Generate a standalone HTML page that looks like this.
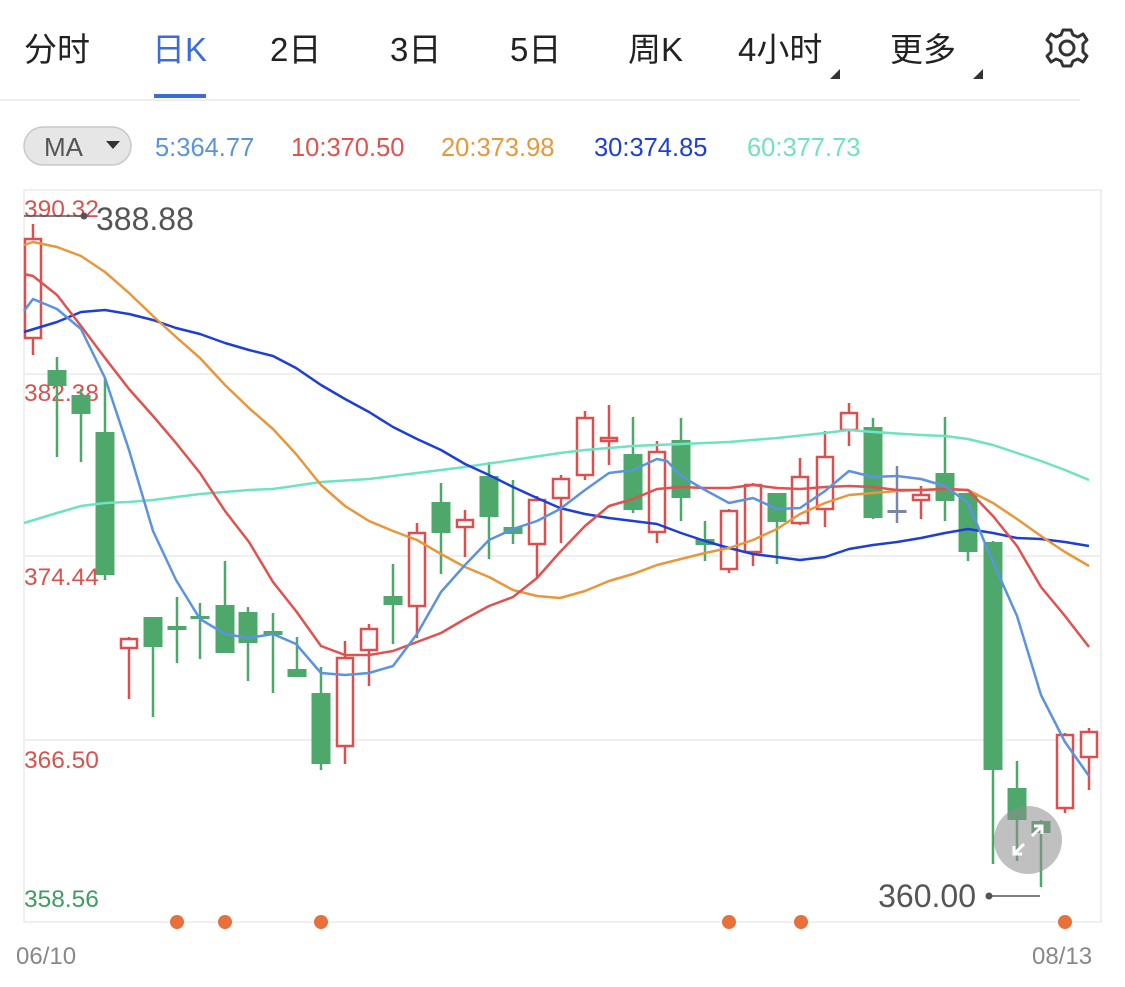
<!DOCTYPE html>
<html><head><meta charset="utf-8"><style>
body{margin:0;background:#fff;width:1125px;height:987px;overflow:hidden;font-family:"Liberation Sans","Noto Sans CJK SC",sans-serif}
svg{position:absolute;left:0;top:0}
</style></head><body>
<svg width="1125" height="987" viewBox="0 0 1125 987" font-family="Liberation Sans, Noto Sans CJK SC, sans-serif">
<g font-size="33" fill="#222">
<text x="24" y="61">分时</text>
<text x="152" y="61" fill="#3d6bd8">日K</text>
<text x="270" y="61">2日</text>
<text x="390" y="61">3日</text>
<text x="510" y="61">5日</text>
<text x="628" y="61">周K</text>
<text x="738" y="61">4小时</text>
<text x="890" y="61">更多</text>
</g>
<rect x="154" y="94" width="52" height="4" fill="#3d6bd8"/>
<polygon points="840,69 840,79 830,79" fill="#333"/>
<polygon points="983,69 983,79 973,79" fill="#333"/>
<g transform="translate(1067,48)" fill="none" stroke="#333" stroke-width="3">
<circle r="7"/>
<path d="M-4,-18 L4,-18 L6,-13 L11,-11 L16,-14 L20,-8 L16,-4 L16,4 L20,8 L16,14 L11,11 L6,13 L4,18 L-4,18 L-6,13 L-11,11 L-16,14 L-20,8 L-16,4 L-16,-4 L-20,-8 L-16,-14 L-11,-11 L-6,-13 Z" stroke-linejoin="round"/>
</g>
<line x1="0" y1="100" x2="1080" y2="100" stroke="#eee" stroke-width="2"/>
<rect x="24" y="127" width="107" height="38" rx="19" fill="#e6e6e6" stroke="#c8c8c8" stroke-width="1.5"/>
<text x="44" y="156" font-size="26" fill="#555">MA</text>
<polygon points="106,141 120,141 113,149" fill="#333"/>
<g font-size="25.5">
<text x="155" y="156" fill="#5b93e0">5:364.77</text>
<text x="291" y="156" fill="#e0524e">10:370.50</text>
<text x="441" y="156" fill="#e8973a">20:373.98</text>
<text x="594" y="156" fill="#1d3fd6">30:374.85</text>
<text x="747" y="156" fill="#6ee3c0">60:377.73</text>
</g>
<g stroke="#efefef" stroke-width="2" fill="none">
<rect x="24" y="190" width="1077" height="732"/>
<line x1="24" y1="374" x2="1101" y2="374"/>
<line x1="24" y1="556" x2="1101" y2="556"/>
<line x1="24" y1="740" x2="1101" y2="740"/>
</g>
<g font-size="24.5" fill="#d9524e">
<text x="24" y="217">390.32</text>
<text x="24" y="401">382.38</text>
<text x="24" y="585">374.44</text>
<text x="24" y="768">366.50</text>
<text x="24" y="907" fill="#3f9d63">358.56</text>
</g>
<g font-size="24" fill="#888">
<text x="16" y="964">06/10</text>
<text x="1032" y="964">08/13</text>
</g>
<g id="candles"></g>
<g fill="none" stroke-width="2.5" stroke-linejoin="round">
<polyline stroke="#6ee3c0" points="24,523 57,513 81,506 105,503 129,502 153,500 200,494 249,490 273,489 321,482 369,479 417,473 465,467 513,460 560,453 585,450 633,446 681,444 729,442 777,438 825,433 849,430 873,432 921,435 945,436 968,439 993,445 1017,453 1041,461 1065,470 1089,480"/>
<polyline stroke="#1d3fd6" points="24,332 57,322 81,312 105,310 129,314 153,320 176,328 200,334 225,343 249,350 273,356 296,368 321,385 345,399 369,412 393,427 417,439 441,450 465,464 489,475 513,487 537,498 560,508 585,514 609,518 633,521 657,524 681,533 705,541 729,548 753,554 777,557 800,560 825,557 849,549 873,545 897,542 921,538 945,533 968,529 993,533 1017,538 1041,539 1065,542 1089,546"/>
<polyline stroke="#e8973a" points="24,245 33,242 57,247 81,256 105,272 129,293 153,316 176,337 200,358 225,385 249,408 273,429 296,454 321,485 345,506 369,521 393,531 417,540 441,554 465,567 489,577 513,590 537,596 560,598 585,591 609,581 633,574 657,565 681,559 705,553 729,548 753,540 777,529 800,514 825,503 849,495 873,493 897,491 921,490 945,489 968,490 993,503 1017,519 1041,536 1065,552 1089,566"/>
<polyline stroke="#e0524e" points="24,274 33,276 57,295 81,326 105,358 129,389 153,416 176,443 200,473 225,511 249,542 273,582 296,611 321,646 345,655 369,655 393,651 417,642 441,633 465,619 489,606 513,597 537,578 560,552 585,526 609,506 633,499 657,489 681,487 705,488 729,488 753,485 777,488 800,489 825,487 849,486 873,487 897,490 921,490 945,489 968,490 993,516 1017,546 1041,587 1065,616 1089,647"/>
<polyline stroke="#5b93e0" points="24,311 33,299 57,309 81,329 105,378 129,450 153,531 176,580 200,619 225,634 249,638 273,634 296,644 321,673 345,675 369,673 393,666 417,634 441,592 465,565 489,540 513,529 537,521 560,509 585,490 609,473 633,470 657,459 667,461 681,476 705,490 729,503 753,498 777,509 800,508 825,491 849,471 873,477 897,476 921,479 945,486 968,503 993,562 1017,616 1041,695 1065,742 1089,776"/>
</g>
<g fill="#e8703a">
<circle cx="177" cy="922" r="7"/><circle cx="225" cy="922" r="7"/><circle cx="321" cy="922" r="7"/>
<circle cx="729" cy="922" r="7"/><circle cx="801" cy="922" r="7"/><circle cx="1065" cy="922" r="7"/>
</g>
<line x1="24" y1="216" x2="84" y2="216" stroke="#555" stroke-width="1.5"/>
<circle cx="84" cy="216" r="3.5" fill="#555"/>
<text x="96" y="230" font-size="32" fill="#555">388.88</text>
<text x="976" y="907" font-size="32" fill="#555" text-anchor="end">360.00</text>
<circle cx="989" cy="896" r="3.5" fill="#555"/>
<line x1="989" y1="896" x2="1040" y2="896" stroke="#555" stroke-width="1.5"/>
<circle cx="1028" cy="840" r="34" fill="rgba(140,140,140,0.55)"/>
<g stroke="#fff" stroke-width="3" fill="none">
<line x1="1014" y1="854" x2="1024" y2="844"/><polyline points="1014,846 1014,854 1022,854"/>
<line x1="1032" y1="836" x2="1042" y2="826"/><polyline points="1034,826 1042,826 1042,834"/>
</g>
</svg>
<script>
var d=[
[33,'r',224,239,338,355],[57,'g',357,370,386,457],[81,'g',389,395,414,462],[105,'g',378,432,575,580],
[129,'r',637,639,648,699],[153,'g',617,617,647,717],[177,'g',597,626,630,663],[200,'g',603,616,619,659],
[225,'g',561,605,653,653],[248,'g',607,612,643,681],[273,'g',613,631,635,693],[297,'g',637,669,677,677],
[321,'g',667,693,764,770],[345,'r',641,658,746,764],[369,'r',624,629,650,686],[393,'g',564,596,605,644],
[417,'r',523,533,606,638],[441,'g',483,502,533,574],[465,'r',510,520,527,557],[489,'g',462,476,517,559],
[513,'g',480,527,534,544],[537,'r',496,500,544,578],[561,'r',475,479,498,543],[585,'r',411,418,475,480],
[609,'r',405,438,441,465],[633,'g',417,454,510,513],[657,'r',441,452,532,543],[681,'g',418,440,498,521],
[705,'g',521,539,545,561],[729,'r',509,511,569,573],[753,'r',483,485,552,566],[777,'g',493,493,522,564],
[800,'r',458,477,523,525],[825,'r',431,457,509,527],[849,'r',403,413,430,446],[873,'g',418,427,518,519],
[897,'x',466,510,512,523],[921,'r',486,495,500,519],[945,'g',417,473,501,521],[968,'g',493,493,552,561],
[993,'g',541,542,770,864],[1017,'g',761,788,820,861],[1041,'g',820,821,833,887],[1065,'r',733,735,808,813],
[1089,'r',728,732,757,790]];
var s='';
d.forEach(function(c){var x=c[0],col=c[1]=='r'?'#dc4f4f':c[1]=='g'?'#4ea86b':'#7a86a8';
var h=Math.max(c[4]-c[3],3);
s+='<line x1="'+x+'" y1="'+c[2]+'" x2="'+x+'" y2="'+c[5]+'" stroke="'+col+'" stroke-width="2.5"/>';
if(c[1]=='r')s+='<rect x="'+(x-8)+'" y="'+c[3]+'" width="16" height="'+h+'" fill="#fff" stroke="'+col+'" stroke-width="2.5"/>';
else s+='<rect x="'+(x-9.5)+'" y="'+c[3]+'" width="19" height="'+h+'" fill="'+col+'"/>';});
document.getElementById('candles').innerHTML=s;
</script>
</body></html>
